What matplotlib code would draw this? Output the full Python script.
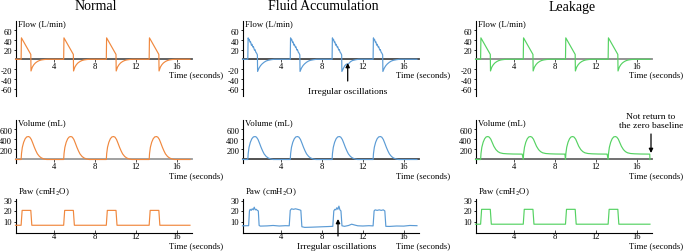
import matplotlib
matplotlib.use('Agg')
import matplotlib.pyplot as plt
from matplotlib.transforms import ScaledTranslation
from matplotlib.patches import FancyArrowPatch

plt.rcParams['font.family'] = ['Liberation Serif', 'DejaVu Serif']
plt.rcParams['mathtext.fontset'] = 'stix'
plt.rcParams['axes.unicode_minus'] = False

W, H = 685, 252

# ---- データ ----
titles = ['Normal', 'Fluid Accumulation', 'Leakage']
line_colors = ['#F0883E', '#5B9BD5', '#55D262']

# 呼吸の開始時刻 (s)
normal_onsets = [0.75, 4.92, 9.1, 13.3]
fluid_onsets = [0.72, 4.88, 8.98, 13.0]
leak_onsets = [0.7, 4.88, 9.02, 13.2]

# 1呼吸分の流量波形 (開始からの秒, L/min)
flow_dt = [0, 0.03, 0.95, 0.97, 1.1, 1.25, 1.4, 1.6, 1.8, 2.0, 2.3, 2.6]
flow_val = [0, 44, 10, -24, -16, -11, -7.5, -4.5, -2.5, -1.3, -0.4, 0]

# 水分貯留: ギザギザの吸気
fluid_flow_dt = [0, 0.03, 0.1, 0.14, 0.22, 0.27, 0.35, 0.4, 0.5, 0.55, 0.65, 0.7,
                 0.8, 0.85, 0.94, 0.96, 1.1, 1.25, 1.4, 1.6, 1.8, 2.0, 2.3, 2.6]
fluid_flow_val = [0, 44, 40, 41, 35, 36, 29, 31, 25, 26, 19, 20,
                  14, 13, 9, -25, -18, -13, -9.5, -6, -3.5, -2, -0.8, 0]
fluid_flow_val_3 = [0, 44, 40, 41, 35, 36, 29, 31, 25, 26, 19, 20,
                    14, 13, 9, -25, -19, -13, -10, -9.5, -5, -2.5, -1, 0]

# 1呼吸分の換気量 (mL)
vol_dt = [0, 0.04, 0.12, 0.25, 0.4, 0.55, 0.72, 0.85, 1.0, 1.15, 1.3, 1.45,
          1.6, 1.8, 2.0, 2.25, 2.5]
vol_val = [0, 120, 240, 340, 410, 445, 452, 440, 395, 320, 240, 170,
           110, 60, 30, 10, 0]

# リーク: ゼロに戻らない
leak_vol_dt = [0, 0.04, 0.12, 0.25, 0.4, 0.55, 0.72, 0.85, 1.0, 1.15, 1.3, 1.5,
               1.7, 1.9, 2.2, 2.6, 3.2, 4.08]
leak_vol_val = [0, 120, 240, 340, 410, 445, 452, 440, 400, 330, 260, 195,
                155, 132, 118, 112, 108, 106]

# 気道内圧 (cmH2O)
paw_dt = [0, 0.1, 0.95, 1.05]
paw_val = [7, 21, 21, 7]
leak_paw_val = [8, 22, 22, 8]

# 水分貯留の気道内圧 (不規則)
fluid_paw_t = [0.2, 0.8, 0.88, 0.95, 1.05, 1.15, 1.25, 1.35, 1.45, 1.55,
               1.65, 1.75, 1.83, 1.95, 2.6, 3.2, 3.8, 4.4, 4.78, 4.88,
               5.0, 5.2, 5.4, 5.6, 5.8, 5.92, 6.02, 6.3, 7.0, 7.8,
               8.6, 9.05, 9.15, 9.25, 9.35, 9.45, 9.55, 9.65, 9.75, 9.85,
               9.95, 10.2, 10.6, 10.9, 11.2, 11.5, 12.0, 12.6, 13.0, 13.1,
               13.2, 13.4, 13.6, 13.8, 14.0, 14.15, 14.25, 14.6, 15.3, 16.0,
               16.6, 17.3]
fluid_paw_v = [6.5, 6.6, 20.5, 22.0, 21.0, 22.5, 21.5, 24.0, 21.5, 22.0,
               21.0, 20.5, 6.8, 6.2, 6.4, 6.8, 6.3, 6.6, 6.5, 21.0,
               22.5, 22.0, 22.5, 22.0, 21.5, 21.0, 5.6, 5.0, 5.2, 5.5,
               5.8, 6.0, 20.5, 22.0, 21.5, 23.5, 22.0, 25.0, 21.5, 20.5,
               6.5, 6.0, 6.8, 8.0, 7.2, 6.5, 6.3, 6.6, 6.4, 20.5,
               21.5, 21.0, 21.5, 21.0, 21.5, 20.5, 6.0, 5.9, 6.3, 6.2,
               6.8, 6.6]

x_ticks = [4, 8, 12, 16]
flow_ticks = [-60, -40, -20, 20, 40, 60]
vol_ticks = [200, 400, 600]
paw_ticks = [10, 20, 30]

T0, T1 = 0.2, 17.3


def tile(onsets, dt, vals, base_start, base_end, per_breath=None):
    """呼吸テンプレートを開始時刻ごとに並べる"""
    t, v = [T0], [base_start]
    for i, on in enumerate(onsets):
        vv = per_breath[i] if per_breath and i in per_breath else vals
        t += [on + d for d in dt]
        v += list(vv)
    t.append(T1)
    v.append(base_end)
    return t, v


def rect(left, top, width, height):
    return [left / W, 1 - (top + height) / H, width / W, height / H]


def fx(x):
    return x / W


def fy(y):
    return 1 - y / H


fig = plt.figure(figsize=(W / 100, H / 100), dpi=100)
down = ScaledTranslation(0, -1.8 / 100, fig.dpi_scale_trans)

col_left = [15.5, 242.5, 475.5]
title_x = [96, 323, 572.5]
ax_w = 176.5
rows = {
    'flow': dict(top=21.3, h=75, ylim=(-76, 78), ticks=flow_ticks,
                 label='Flow (L/min)', label_y=24, time_y=75, pad=0.8),
    'vol': dict(top=120, h=43, ylim=(-69, 778), ticks=vol_ticks,
                label='Volume (mL)', label_y=123.5, time_y=176, pad=0.8),
    'paw': dict(top=198.7, h=34, ylim=(0, 32), ticks=paw_ticks,
                label='Paw (cmH$_2$O)', label_y=192, time_y=246, pad=0.4),
}
zero_colors = {'flow': ['#555555', '#444444', '#8a8a8a'],
               'vol': ['#9a9a9a', '#444444', '#666666']}

traces = {
    ('flow', 0): tile(normal_onsets, flow_dt, flow_val, 0, 0),
    ('flow', 1): tile(fluid_onsets, fluid_flow_dt, fluid_flow_val, 0, 0,
                      {2: fluid_flow_val_3}),
    ('flow', 2): tile(leak_onsets, flow_dt, flow_val, 0, 0),
    ('vol', 0): tile(normal_onsets, vol_dt, vol_val, 0, 0),
    ('vol', 1): tile(fluid_onsets, vol_dt, vol_val, 0, 0),
    ('vol', 2): tile(leak_onsets, leak_vol_dt, leak_vol_val, 0, 0),
    ('paw', 0): tile(normal_onsets, paw_dt, paw_val, paw_val[0], paw_val[0]),
    ('paw', 1): (fluid_paw_t, fluid_paw_v),
    ('paw', 2): tile(leak_onsets, paw_dt, leak_paw_val, leak_paw_val[0], leak_paw_val[0]),
}

for c in range(3):
    left = col_left[c]
    for key, r in rows.items():
        ax = fig.add_axes(rect(left, r['top'], ax_w, r['h']))
        t, v = traces[(key, c)]
        ax.plot(t, v, color=line_colors[c], lw=0.85, zorder=3, clip_on=False)
        ax.set_xlim(T0, 17.5)
        ax.set_ylim(*r['ylim'])
        ax.set_facecolor('none')
        for s in ['top', 'right']:
            ax.spines[s].set_visible(False)
        ax.spines['left'].set_linewidth(0.8)
        if key == 'paw':
            ax.spines['bottom'].set_linewidth(0.8)
        else:
            ax.spines['bottom'].set_position(('data', 0))
            ax.spines['bottom'].set_color(zero_colors[key][c])
            ax.spines['bottom'].set_linewidth(1.3)
        ax.set_xticks(x_ticks)
        ax.set_xticklabels([str(x) for x in x_ticks])
        ax.set_yticks(r['ticks'])
        ax.set_yticklabels([str(y) for y in r['ticks']])
        ax.tick_params(axis='y', length=1.5, width=0.6, pad=0.8, labelsize=6.2)
        ax.tick_params(axis='x', length=2, width=0.6, pad=r['pad'], labelsize=6.2,
                       color='#333333', direction='in' if key == 'paw' else 'out')
        if key != 'paw':
            for lab in ax.get_yticklabels():
                lab.set_transform(lab.get_transform() + down)
        # 軸ラベル
        fig.text(fx(left + 2.5), fy(r['label_y']), r['label'], fontsize=6.3,
                 ha='left', va='center')
        fig.text(fx(left + ax_w + 31), fy(r['time_y']), 'Time (seconds)',
                 fontsize=6.3, ha='right', va='center')
    fig.text(fx(title_x[c]), fy(10.5), titles[c], fontsize=10,
             ha='center', va='baseline')

# 注釈
arrow = dict(arrowstyle='-|>', color='black', lw=0.9, mutation_scale=6,
             shrinkA=0, shrinkB=0)
fig.text(fx(348), fy(92), 'Irregular oscillations', fontsize=6.8, ha='center', va='center')
fig.add_artist(FancyArrowPatch((fx(347.7), fy(81)), (fx(347.7), fy(63)),
                               transform=fig.transFigure, **arrow))
fig.text(fx(337), fy(247), 'Irregular oscillations', fontsize=6.8, ha='center', va='center')
fig.add_artist(FancyArrowPatch((fx(338), fy(236)), (fx(338), fy(219)),
                               transform=fig.transFigure, **arrow))
fig.text(fx(651), fy(121.5), 'Not return to\nthe zero baseline', fontsize=6.8,
         ha='center', va='center', linespacing=1.15)
fig.add_artist(FancyArrowPatch((fx(651), fy(134)), (fx(651), fy(153)),
                               transform=fig.transFigure, **arrow))

fig.savefig('out.png', dpi=100)
plt.close(fig)
